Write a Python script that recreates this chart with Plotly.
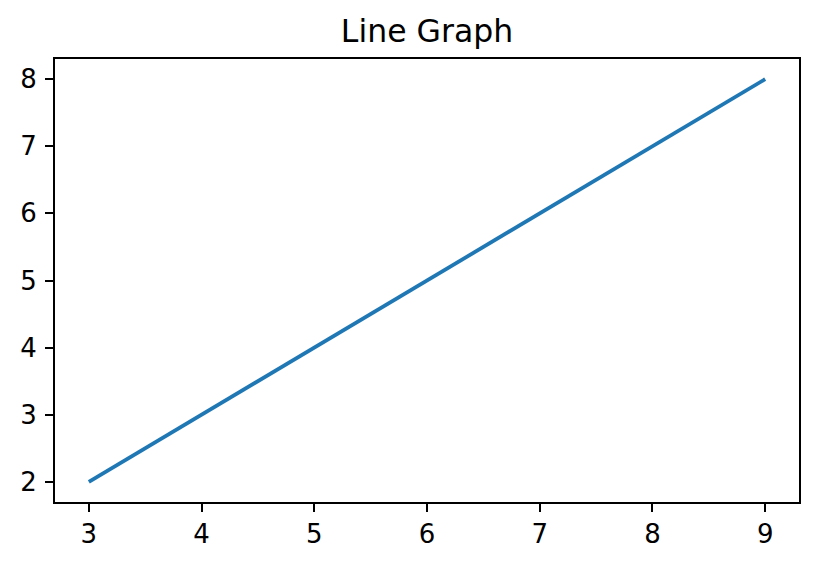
import plotly.graph_objects as go

x_vals = [3, 4, 5, 6, 7, 8, 9]
y_vals = [2, 3, 4, 5, 6, 7, 8]

# page body has an 8px margin, so the figure is shrunk by that much
W, H = 810, 558

fig = go.Figure()
fig.add_trace(go.Scatter(x=x_vals, y=y_vals, mode="lines",
                         line=dict(color="#1f77b4", width=3.8)))

axis_style = dict(showgrid=False, zeroline=False, showline=True, linecolor="black",
                  linewidth=2, mirror=True, ticks="outside", ticklen=8, tickwidth=2,
                  tickcolor="black", tickfont=dict(family="DejaVu Sans", size=26, color="black"),
                  dtick=1)

fig.update_layout(
    width=W, height=H,
    margin=dict(l=47, r=19, t=51, b=64),
    paper_bgcolor="white", plot_bgcolor="white",
    showlegend=False,
    title=dict(text="Line Graph", x=0.5, xref="paper", y=1 - 23 / H, yanchor="middle",
               font=dict(family="DejaVu Sans", size=31.5, color="black")),
    xaxis=dict(range=[2.7, 9.3], **axis_style),
    yaxis=dict(range=[1.7, 8.3], ticklabelstandoff=3, **axis_style),
)

fig.write_html("out.html")
